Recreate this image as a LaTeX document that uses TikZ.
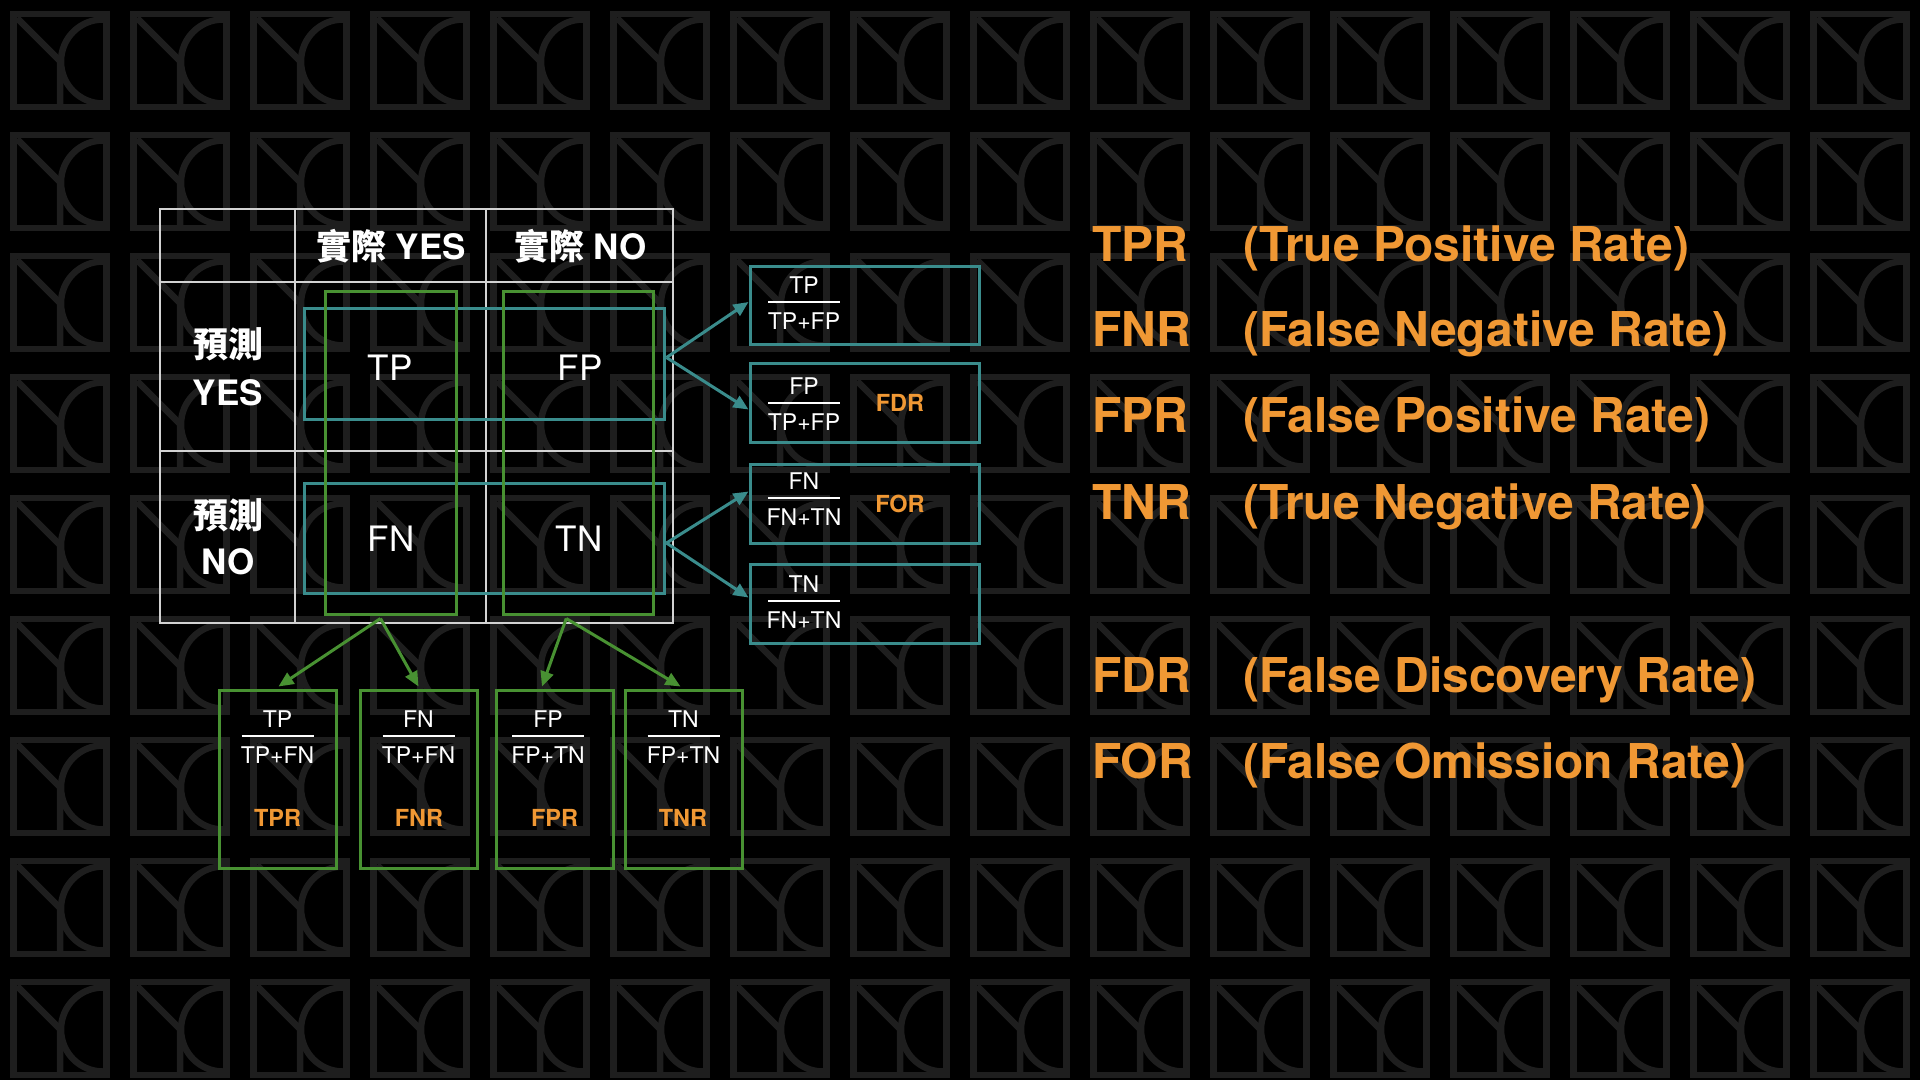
\documentclass[tikz,border=0pt]{standalone}
\usepackage{fontspec}
\setmainfont{TeX Gyre Heros}
\newfontfamily\cjk{Noto Sans CJK TC}
\usetikzlibrary{arrows.meta,calc}
\definecolor{tilegray}{RGB}{30,30,30}
\definecolor{gridgray}{RGB}{210,210,210}
\definecolor{mygreen}{RGB}{72,145,50}
\definecolor{myteal}{RGB}{58,140,140}
\definecolor{myorange}{RGB}{240,152,52}
\newcommand\myfrac[5]{%
  \node[fractxt] (#1n) at (#2,#3-16.5) {#4};
  \node[fractxt] (#1d) at (#2,#3+19.5) {#5};
  \draw[fracbar] (#2-36,#3) -- (#2+36,#3);}
\begin{document}
\begin{tikzpicture}[x=1pt,y=-1pt,
  tileline/.style={draw=tilegray,line width=6.5pt},
  gridline/.style={draw=gridgray,line width=2pt},
  gbox/.style={draw=mygreen,line width=3pt,rectangle,inner sep=0pt},
  tbox/.style={draw=myteal,line width=3pt,rectangle,inner sep=0pt},
  tarrow/.style={draw=myteal,line width=3pt,-{Triangle[length=15pt,width=13pt]}},
  garrow/.style={draw=mygreen,line width=3pt,-{Triangle[length=15pt,width=13pt]}},
  hdr/.style={font=\fontsize{35}{41}\selectfont\bfseries,text=white,inner sep=0pt},
  celltxt/.style={font=\fontsize{35}{42}\selectfont,text=white,inner sep=0pt},
  fractxt/.style={font=\fontsize{23}{28}\selectfont,text=white,inner sep=0pt},
  fracbar/.style={draw=white,line width=2pt},
  lab/.style={font=\fontsize{23.5}{28}\selectfont\bfseries,text=myorange,inner sep=0pt},
  legend/.style={font=\fontsize{48}{57}\selectfont\bfseries,text=myorange,inner sep=0pt,anchor=base west}]
\fill[black] (0,0) rectangle (1920,1080);
\useasboundingbox (0,0) rectangle (1920,1080);
% background tiles
\foreach \i in {0,...,15}{\foreach \j in {0,...,8}{
  \begin{scope}[shift={(\i*120,\j*121)}]
    \draw[tileline] (13.5,14) rectangle (106.5,107);
    \draw[tileline] (17,18) -- (60,61) -- (60,107);
    \draw[tileline] (103,19.5) .. controls (79.8,19.5) and (61,38.3) .. (61,61.5) .. controls (61,84.7) and (79.8,103.5) .. (103,103.5);
  \end{scope}}}
% table grid
\draw[gridline] (160,209) rectangle (673,623);
\draw[gridline] (295,209) -- (295,623);
\draw[gridline] (486,209) -- (486,623);
\draw[gridline] (160,282) -- (673,282);
\draw[gridline] (160,451) -- (673,451);
% headers
\node[hdr] (hY) at (391,246) {{\cjk\bfseries 實際} YES};
\node[hdr] (hN) at (580.5,246) {{\cjk\bfseries 實際} NO};
\node[hdr] (pY1) at (228,344) {\cjk\bfseries 預測};
\node[hdr] (pY2) at (228,392.5) {YES};
\node[hdr] (pN1) at (228,515) {\cjk\bfseries 預測};
\node[hdr] (pN2) at (228,562) {NO};
% cells
\node[celltxt] (cTP) at (390,367.5) {TP};
\node[celltxt] (cFP) at (580,367.5) {FP};
\node[celltxt] (cFN) at (391,539) {FN};
\node[celltxt] (cTN) at (579,539) {TN};
% teal row boxes and green column boxes
\node[tbox,minimum width=360pt,minimum height=111pt] (tealT) at (484,363.5) {};
\node[tbox,minimum width=360pt,minimum height=110pt] (tealB) at (484,538) {};
\node[gbox,minimum width=131pt,minimum height=323pt] (greenL) at (390.5,452.5) {};
\node[gbox,minimum width=150pt,minimum height=323pt] (greenR) at (578.75,452.5) {};
% right boxes
\node[tbox,minimum width=229pt,minimum height=78pt] (r1) at (864.5,305) {};
\node[tbox,minimum width=229pt,minimum height=79pt] (r2) at (864.5,402.5) {};
\node[tbox,minimum width=229pt,minimum height=79pt] (r3) at (864.5,503.5) {};
\node[tbox,minimum width=229pt,minimum height=79pt] (r4) at (864.5,603.5) {};
\myfrac{r1f}{804}{302}{TP}{TP+FP}
\myfrac{r2f}{804}{403}{FP}{TP+FP}
\myfrac{r3f}{804}{498}{FN}{FN+TN}
\myfrac{r4f}{804}{601}{TN}{FN+TN}
\node[lab] (lFDR) at (900,403) {FDR};
\node[lab] (lFOR) at (900,504) {FOR};
% bottom boxes
\node[gbox,minimum width=117pt,minimum height=178pt] (b1) at (277.5,779) {};
\node[gbox,minimum width=117pt,minimum height=178pt] (b2) at (418.5,779) {};
\node[gbox,minimum width=117pt,minimum height=178pt] (b3) at (554.5,779) {};
\node[gbox,minimum width=117pt,minimum height=178pt] (b4) at (683.5,779) {};
\myfrac{b1f}{277.5}{736}{TP}{TP+FN}
\myfrac{b2f}{418.5}{736}{FN}{TP+FN}
\myfrac{b3f}{548}{736}{FP}{FP+TN}
\myfrac{b4f}{683.5}{736}{TN}{FP+TN}
\node[lab] (lTPR) at (277.5,818) {TPR};
\node[lab] (lFNR) at (419,818) {FNR};
\node[lab] (lFPR) at (554.5,818) {FPR};
\node[lab] (lTNR) at (683,818) {TNR};
% teal arrows
\coordinate (tT) at ($(tealT.east)+(1,-6)$);
\coordinate (tB) at ($(tealB.east)+(1,5)$);
\draw[tarrow] (tT) -- ($(r1.west)+(0,-3)$);
\draw[tarrow] (tT) -- ($(r2.west)+(0,7)$);
\draw[tarrow] (tB) -- ($(r3.west)+(0,-12)$);
\draw[tarrow] (tB) -- ($(r4.west)+(0,-6)$);
% green arrows
\coordinate (gLo) at ($(greenL.south)+(-10,3)$);
\coordinate (gRo) at ($(greenR.south)+(-12.5,3)$);
\draw[garrow] (gLo) -- ($(b1.north)+(1,-2)$);
\draw[garrow] (gLo) -- ($(b2.north)+(0,-2)$);
\draw[garrow] (gRo) -- ($(b3.north)+(-12.5,-2)$);
\draw[garrow] (gRo) -- ($(b4.north)+(-3,-2)$);
% legend
\node[legend] (k1) at (1092,261) {TPR};
\node[legend] (v1) at (1243,261) {(True Positive Rate)};
\node[legend] (k2) at (1092,346.5) {FNR};
\node[legend] (v2) at (1243,346.5) {(False Negative Rate)};
\node[legend] (k3) at (1092,432) {FPR};
\node[legend] (v3) at (1243,432) {(False Positive Rate)};
\node[legend] (k4) at (1092,519) {TNR};
\node[legend] (v4) at (1243,519) {(True Negative Rate)};
\node[legend] (k5) at (1092,692) {FDR};
\node[legend] (v5) at (1243,692) {(False Discovery Rate)};
\node[legend] (k6) at (1092,778) {FOR};
\node[legend] (v6) at (1243,778) {(False Omission Rate)};
\end{tikzpicture}
\end{document}
